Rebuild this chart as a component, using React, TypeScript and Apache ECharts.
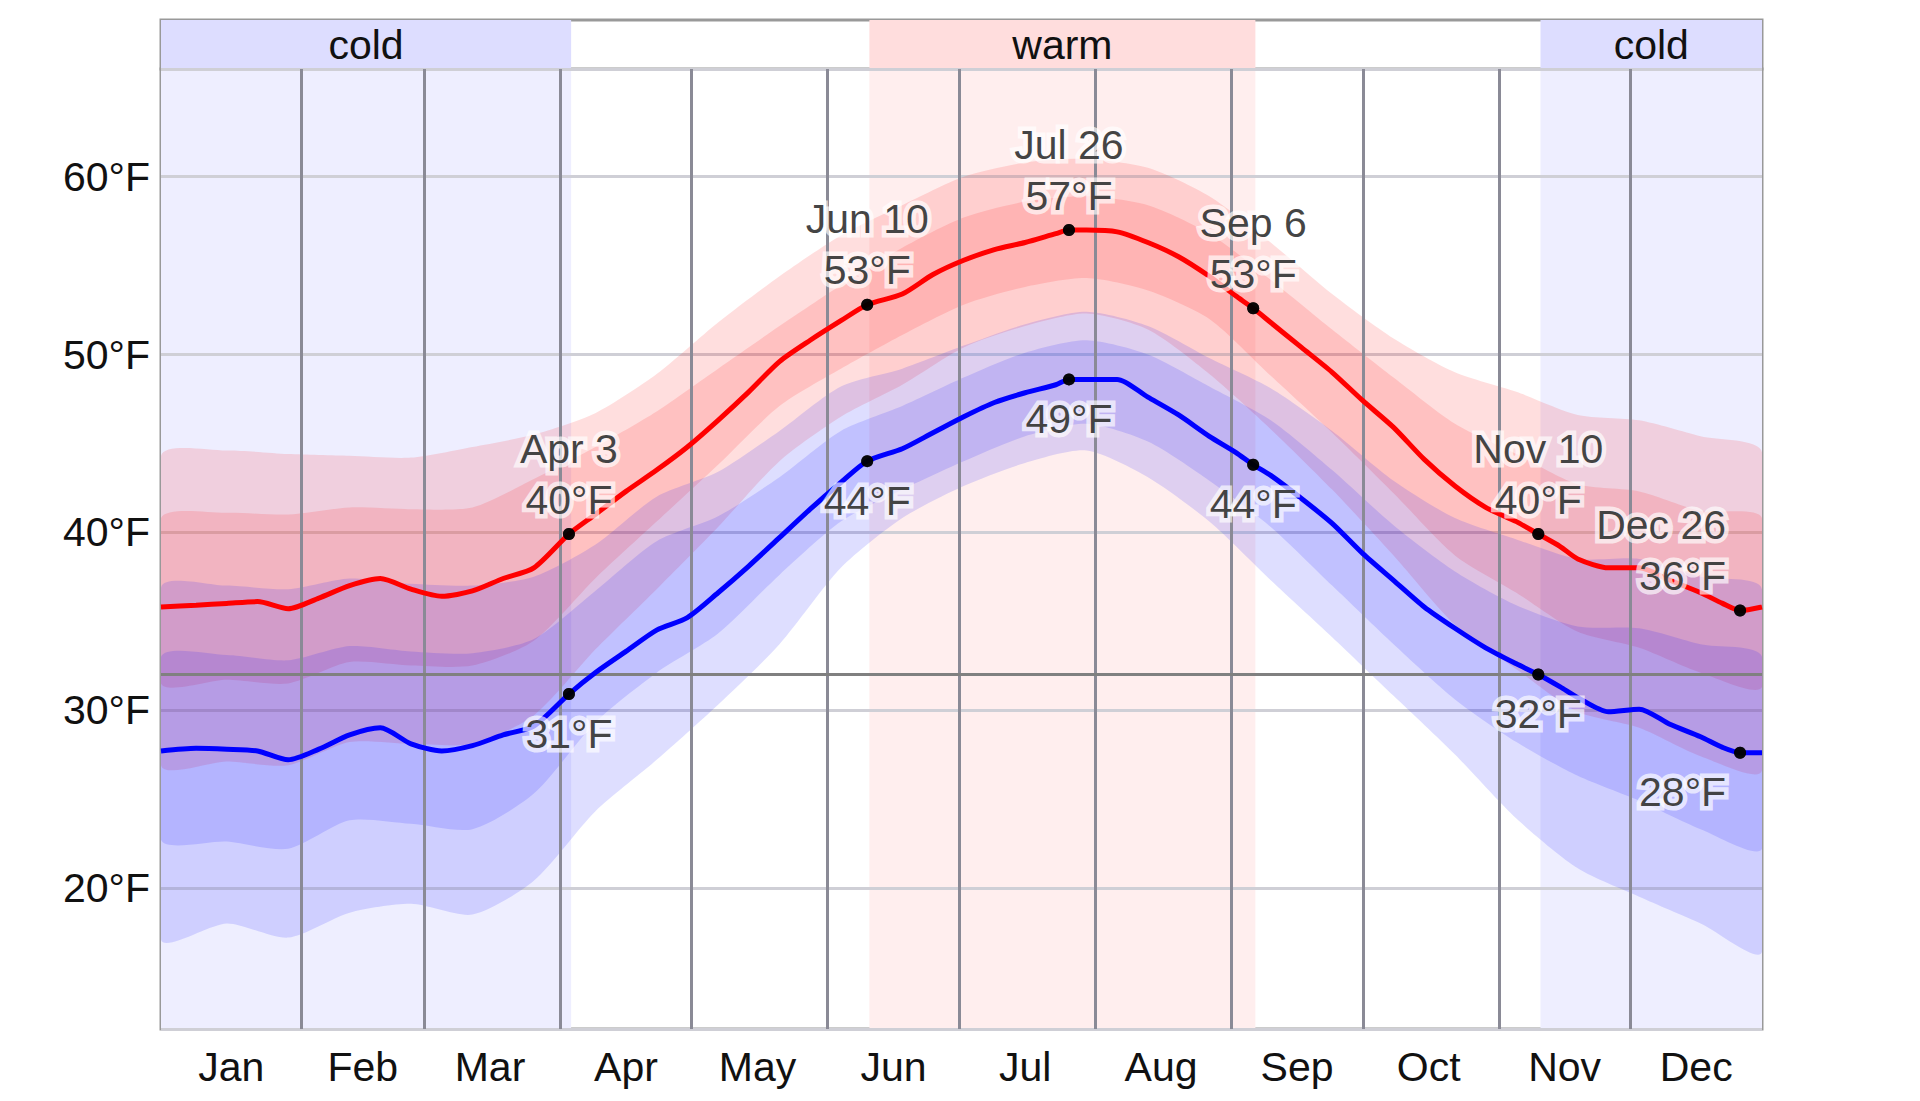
import React, { useEffect, useRef } from "react";
import * as echarts from "echarts";

// ---------- data ----------
const MONTHS = ["Jan", "Feb", "Mar", "Apr", "May", "Jun", "Jul", "Aug", "Sep", "Oct", "Nov", "Dec"];
const MONTH_START_DAYS = [0, 31, 59, 90, 120, 151, 181, 212, 243, 273, 304, 334];
const MONTH_MID_DAYS = [15, 45, 74, 105, 135, 166, 196, 227, 258, 288, 319, 349];
const X_MIN_DAY = -1;
const X_MAX_DAY = 364;

const Y_MIN = 12.06;
const Y_MAX = 66.06;
const Y_TICKS = [20, 30, 40, 50, 60];
const FREEZING_F = 32;

// average daily high / low (°F) by day of year
const LINE_DAYS = [-1, 7, 14, 21, 28, 35, 42, 49, 56, 63, 70, 77, 84, 92, 98, 105, 112, 119, 126, 133, 140, 147, 154, 160, 168, 175, 182, 189, 196, 203, 206, 210, 217, 224, 231, 238, 244, 248, 252, 259, 266, 273, 280, 287, 294, 301, 308, 313, 318, 322, 329, 336, 343, 350, 355, 359, 364];
const HIGH_F = [35.8, 35.9, 36.0, 36.1, 35.7, 36.3, 37.0, 37.4, 36.8, 36.4, 36.7, 37.4, 38.0, 39.9, 41.0, 42.3, 43.5, 44.8, 46.3, 47.9, 49.6, 50.8, 51.9, 52.8, 53.4, 54.5, 55.3, 55.9, 56.3, 56.8, 57.0, 57.0, 56.9, 56.3, 55.5, 54.4, 53.3, 52.6, 51.8, 50.4, 49.0, 47.4, 45.9, 44.1, 42.6, 41.4, 40.6, 39.9, 39.2, 38.5, 38.0, 38.0, 37.3, 36.6, 36.0, 35.6, 35.8];
const LOW_F = [27.7, 27.85, 27.8, 27.7, 27.2, 27.8, 28.6, 29.0, 28.1, 27.7, 28.0, 28.6, 29.1, 30.9, 32.1, 33.3, 34.5, 35.2, 36.6, 38.1, 39.7, 41.3, 42.8, 44.0, 44.7, 45.6, 46.5, 47.3, 47.85, 48.3, 48.6, 48.6, 48.6, 47.6, 46.6, 45.4, 44.5, 43.8, 43.2, 41.9, 40.5, 38.8, 37.3, 35.8, 34.6, 33.5, 32.6, 32.0, 31.3, 30.7, 29.9, 30.05, 29.2, 28.5, 27.9, 27.6, 27.6];

// percentile bands (°F)
const BAND_DAYS = [-1, 14, 28, 42, 56, 70, 84, 98, 112, 126, 140, 154, 168, 182, 196, 210, 224, 238, 252, 266, 280, 294, 308, 322, 336, 350, 364];
const HIGH_P90 = [44.3, 44.6, 44.4, 44.3, 44.2, 44.8, 45.5, 46.7, 48.9, 51.8, 54.4, 56.7, 58.4, 60.0, 60.8, 61.0, 60.5, 58.9, 56.3, 53.4, 50.9, 49.0, 47.9, 46.6, 46.3, 45.4, 44.5];
const HIGH_P75 = [40.8, 41.1, 41.0, 41.4, 41.3, 41.4, 43.0, 44.8, 46.8, 49.2, 51.6, 53.9, 56.0, 57.7, 58.6, 58.9, 58.4, 56.8, 54.2, 51.4, 48.7, 46.1, 44.4, 42.7, 42.3, 41.2, 40.8];
const HIGH_P25 = [31.5, 31.7, 31.5, 32.7, 32.5, 32.5, 33.9, 37.4, 40.6, 43.8, 47.1, 49.2, 51.1, 52.8, 53.8, 54.3, 53.6, 52.0, 48.8, 45.6, 42.2, 38.7, 36.6, 34.4, 33.5, 32.1, 31.3];
const HIGH_P10 = [26.9, 27.1, 26.9, 28.2, 28.1, 28.1, 29.7, 33.4, 36.8, 40.3, 44.0, 46.5, 48.3, 50.4, 51.6, 52.3, 51.4, 48.9, 45.8, 42.4, 38.7, 34.8, 32.3, 29.9, 29.0, 27.4, 26.6];
const LOW_P90 = [36.9, 37.0, 36.8, 37.4, 37.1, 37.0, 37.5, 39.3, 42.0, 43.4, 45.7, 48.2, 49.2, 50.5, 51.7, 52.4, 51.6, 49.8, 48.1, 45.7, 42.9, 40.8, 39.6, 38.5, 38.5, 37.5, 36.8];
const LOW_P75 = [33.0, 33.1, 32.8, 33.6, 33.3, 33.2, 34.0, 36.7, 39.5, 40.9, 43.1, 45.7, 47.1, 48.7, 50.1, 50.8, 50.0, 48.2, 46.3, 43.5, 40.4, 37.8, 35.9, 34.7, 34.6, 33.7, 33.0];
const LOW_P25 = [22.7, 22.6, 22.2, 23.8, 23.6, 23.3, 25.3, 29.3, 32.1, 34.3, 37.6, 40.6, 42.4, 44.0, 45.4, 46.1, 45.1, 42.9, 40.3, 37.0, 33.7, 30.6, 28.2, 26.3, 24.9, 23.3, 22.2];
const LOW_P10 = [17.1, 18.0, 17.2, 18.6, 19.1, 18.5, 20.4, 24.3, 27.2, 30.3, 33.7, 38.0, 40.8, 42.6, 43.9, 44.6, 43.1, 40.6, 37.3, 34.1, 30.8, 27.5, 23.9, 21.1, 19.5, 18.0, 16.4];

// seasons
const SEASON_NAMES = ["cold", "warm", "cold"];
const SEASON_START_DAYS = [-1, 160.5, 313.5];
const SEASON_END_DAYS = [92.5, 248.5, 364];

// annotated days
const MARK_DAYS = [92, 160, 206, 248, 313, 359];
const MARK_DATES = ["Apr 3", "Jun 10", "Jul 26", "Sep 6", "Nov 10", "Dec 26"];

// ---------- styles ----------
const FONT = "'Liberation Sans', Arial, Helvetica, sans-serif";
const FONT_SIZE = 41;
const TEXT_COLOR = "#111";
const SEASON_PLOT_COLOR: Record<string, string> = { cold: "#EEEEFF", warm: "#FFEEEE" };
const SEASON_HEAD_COLOR: Record<string, string> = { cold: "#DDDDFF", warm: "#FFDDDD" };
const RED_BAND = "rgba(255,0,0,0.13)";
const BLUE_BAND = "rgba(0,0,255,0.13)";

const PLOT = { left: 161, top: 69, width: 1601, height: 960 };
const HEAD = { left: 161, top: 20, width: 1601, height: 49 };

const pairs = (days: number[], vals: number[]) => days.map((d, i) => [d, vals[i]]);

// one closed polygon per percentile band, positioned through the axes
function bandSeries(name: string, lower: number[], upper: number[], color: string) {
  return {
    type: "custom",
    name,
    silent: true,
    z: 4,
    clip: true,
    data: BAND_DAYS.map((d, i) => [d, lower[i], upper[i]]),
    encode: { x: 0, y: [1, 2] },
    renderItem: (params: any, api: any) => {
      if (params.dataIndex !== 0) return null;
      const top = BAND_DAYS.map((d, i) => api.coord([d, upper[i]]));
      const bottom = BAND_DAYS.map((d, i) => api.coord([d, lower[i]])).reverse();
      return {
        type: "polygon",
        shape: { points: top.concat(bottom), smooth: 0.25 },
        style: { fill: color, stroke: "none" },
      };
    },
  };
}

// annotation series: a halo layer (white outlined text) under a crisp text layer
function markSeries(name: string, vals: number[], above: boolean, halo: boolean) {
  const lastIdx = MARK_DAYS.length - 1;
  return {
    type: "scatter",
    name: halo ? name + " halo" : name,
    silent: true,
    data: MARK_DAYS.map((d, i) => ({
      value: [d, vals[LINE_DAYS.indexOf(d)]],
      label: i === lastIdx ? { align: "right", offset: [-14, 0] } : undefined,
    })),
    symbolSize: 12,
    z: halo ? 8 : 9,
    itemStyle: { color: "#000" },
    label: {
      show: true,
      position: above ? "top" : "bottom",
      distance: above ? 3 : 8,
      fontFamily: FONT,
      fontSize: FONT_SIZE,
      lineHeight: 51,
      color: halo ? "#fff" : TEXT_COLOR,
      textBorderColor: halo ? "rgba(255,255,255,0.85)" : "transparent",
      textBorderWidth: halo ? 9 : 0,
      formatter: (p: any) =>
        above
          ? `${MARK_DATES[p.dataIndex]}\n${Math.round(p.value[1])}°F`
          : `${Math.round(p.value[1])}°F`,
    },
  };
}

function buildOption() {
  const seasonPlotAreas = SEASON_NAMES.map((n, i) => [
    { xAxis: SEASON_START_DAYS[i], itemStyle: { color: SEASON_PLOT_COLOR[n] } },
    { xAxis: SEASON_END_DAYS[i] },
  ]);
  const seasonHeadAreas = SEASON_NAMES.map((n, i) => [
    { xAxis: SEASON_START_DAYS[i], name: n, itemStyle: { color: SEASON_HEAD_COLOR[n] } },
    { xAxis: SEASON_END_DAYS[i] },
  ]);
  const gridLines: any[] = MONTH_START_DAYS.slice(1).map((d) => ({ xAxis: d }));
  gridLines.push({ yAxis: FREEZING_F, lineStyle: { color: "#808080", width: 3, type: "solid" } });

  return {
    animation: false,
    backgroundColor: "#fff",
    textStyle: { fontFamily: FONT },
    grid: [
      { ...PLOT, show: true, borderColor: "#999", borderWidth: 3, backgroundColor: "transparent" },
      { ...HEAD, show: true, borderColor: "#999", borderWidth: 3, backgroundColor: "#fff" },
    ],
    xAxis: [
      {
        type: "value",
        gridIndex: 0,
        min: X_MIN_DAY,
        max: X_MAX_DAY,
        axisLine: { show: false },
        axisTick: { show: false },
        splitLine: { show: false },
        axisLabel: {
          customValues: MONTH_MID_DAYS,
          formatter: (v: number) => MONTHS[MONTH_MID_DAYS.indexOf(v)] ?? "",
          fontFamily: FONT,
          fontSize: FONT_SIZE,
          color: TEXT_COLOR,
          margin: 17,
        },
      },
      { type: "value", gridIndex: 1, min: X_MIN_DAY, max: X_MAX_DAY, show: false },
    ],
    yAxis: [
      {
        type: "value",
        gridIndex: 0,
        z: 3,
        min: Y_MIN,
        max: Y_MAX,
        splitNumber: 5,
        axisLine: { show: false },
        axisTick: { show: false },
        splitLine: { show: true, lineStyle: { color: "#cfcfd6", width: 3 } },
        axisLabel: {
          showMinLabel: false,
          showMaxLabel: false,
          formatter: (v: number) =>
            Y_TICKS.includes(Math.round(v)) && Math.abs(v - Math.round(v)) < 1e-6 ? `${Math.round(v)}°F` : "",
          fontFamily: FONT,
          fontSize: FONT_SIZE,
          color: TEXT_COLOR,
          margin: 11,
        },
      },
      { type: "value", gridIndex: 1, min: 0, max: 1, show: false },
    ],
    series: [
      // header with season names
      {
        type: "line",
        xAxisIndex: 1,
        yAxisIndex: 1,
        data: [[X_MIN_DAY, 0.5], [X_MAX_DAY, 0.5]],
        symbol: "none",
        silent: true,
        lineStyle: { opacity: 0, width: 0 },
        markArea: {
          silent: true,
          label: {
            show: true,
            position: "inside",
            formatter: "{b}",
            fontFamily: FONT,
            fontSize: FONT_SIZE,
            color: TEXT_COLOR,
          },
          data: seasonHeadAreas,
        },
      },
      // season shading + grid lines in plot
      {
        type: "line",
        name: "frame",
        data: [[X_MIN_DAY, Y_MIN], [X_MAX_DAY, Y_MIN]],
        symbol: "none",
        silent: true,
        lineStyle: { opacity: 0, width: 0 },
        markArea: { silent: true, label: { show: false }, data: seasonPlotAreas },
        markLine: {
          silent: true,
          symbol: ["none", "none"],
          label: { show: false },
          lineStyle: { color: "#8a8a96", width: 3, type: "solid" },
          data: gridLines,
        },
      },
      bandSeries("High 10–90%", HIGH_P10, HIGH_P90, RED_BAND),
      bandSeries("High 25–75%", HIGH_P25, HIGH_P75, RED_BAND),
      bandSeries("Low 10–90%", LOW_P10, LOW_P90, BLUE_BAND),
      bandSeries("Low 25–75%", LOW_P25, LOW_P75, BLUE_BAND),
      {
        type: "line",
        name: "Average high",
        data: pairs(LINE_DAYS, HIGH_F),
        symbol: "none",
        smooth: 0.25,
        z: 7,
        lineStyle: { color: "#ff0000", width: 5 },
      },
      {
        type: "line",
        name: "Average low",
        data: pairs(LINE_DAYS, LOW_F),
        symbol: "none",
        smooth: 0.25,
        z: 7,
        lineStyle: { color: "#0000ff", width: 5 },
      },
      markSeries("high marks", HIGH_F, true, true),
      markSeries("low marks", LOW_F, false, true),
      markSeries("high marks", HIGH_F, true, false),
      markSeries("low marks", LOW_F, false, false),
    ],
  };
}

export default function App() {
  const ref = useRef<HTMLDivElement>(null);
  useEffect(() => {
    if (!ref.current) return;
    const chart = echarts.init(ref.current, undefined, { renderer: "svg" });
    chart.setOption(buildOption() as any);
    return () => chart.dispose();
  }, []);
  return (
    <div
      ref={ref}
      style={{ position: "fixed", left: 0, top: 0, width: 1920, height: 1101, background: "#fff" }}
    />
  );
}
